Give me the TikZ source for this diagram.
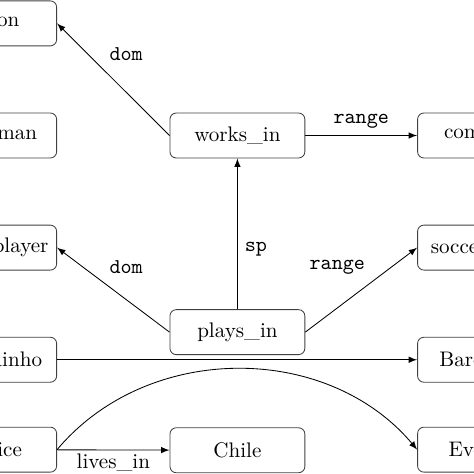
\documentclass[tikz,border=0pt]{standalone}
\usepackage{amsmath}
\usepackage{tikz}
\usetikzlibrary{positioning,arrows}

\begin{document}
\begin{tikzpicture}[->,>=latex, thin, auto, node distance=1.87cm]
			\tikzstyle{concept}=[draw=black!75,text=black,rounded corners=3pt,
			minimum width=2.25cm,minimum height=0.75cm,inner sep=0pt]
			\tikzstyle{prop}=[font=\ttfamily,text=black]

			\path[use as bounding box,clip] (-3.96,2.26) rectangle (3.945,-5.646);

			\begin{scope}
				\node[concept] (works_in) {works\_in};
				\node[concept] (sportsman) [left of=works_in, node distance=4.14cm] {sportsman};
				\node[concept] (person) [above of=sportsman] {person};
				\node[concept] (player) [below of=sportsman] {soccer player};
				\node[concept] (ronaldinho) [below of=player] {Ronaldinho};
				\node[concept] (patrice) [below of=ronaldinho, node distance=1.5cm] {Patrice};
				\node[concept] (company) [right of=works_in, node distance=4.13cm] {company};
				\node[concept] (team) [below of=company] {soccer team};
				\node[concept] (barcelona) [below of=team] {Barcelona};
				\node[concept] (everton) [below of=barcelona, node distance=1.5cm] {Everton};
				\node[concept] (plays_in) [below of=works_in, node distance=3.28cm] {plays\_in};
				\node[concept] (chile) [below of=plays_in, node distance=1.97cm] {Chile};

				\draw (works_in.west) -- node[swap,prop,pos=0.6] {dom} (person.east);
				\draw (works_in) -- node[prop] {range} (company);
				\draw (plays_in) -- node[swap,prop,pos=0.4] {sp} (works_in);
				\draw (plays_in.west) -- node[swap,prop,pos=0.6] {dom} (player.east);
				\draw (plays_in.east) -- node[prop,pos=0.6] {range} (team.west);
				\draw (ronaldinho) -- (barcelona);
				\draw (patrice.east) to[bend left=50] (everton.west);
				\draw (patrice) -- node[swap,inner sep=1.5pt] {lives\_in} (chile);
			\end{scope}
		\end{tikzpicture}
\end{document}
